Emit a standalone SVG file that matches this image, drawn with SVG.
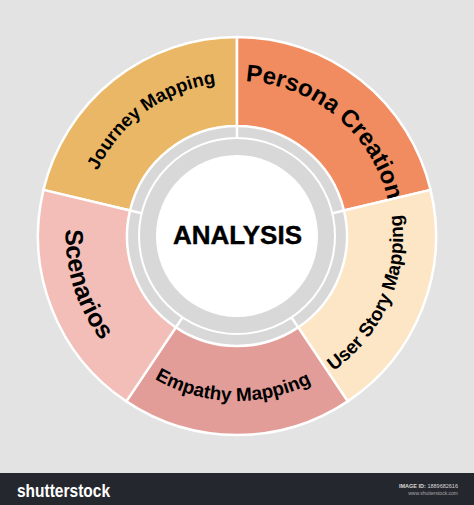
<svg xmlns="http://www.w3.org/2000/svg" xmlns:xlink="http://www.w3.org/1999/xlink" width="474" height="505" viewBox="0 0 474 505">
<style>
.seg{stroke:#ffffff;stroke-width:2.5;stroke-linejoin:round}
.lbl{font-family:"Liberation Sans",Arial,sans-serif;font-weight:bold;fill:#000000}
.div{stroke:#ffffff;stroke-width:2.5}
</style>
<defs>
<path id="pJourney" d="M 105.55 316.24 A 154 154 0 0 1 352.52 134.16"/>
<path id="pPersona" d="M 127.21 126.59 A 155 155 0 0 1 364.12 324.68"/>
<path id="pUser" d="M 184.19 393.38 A 166 166 0 0 0 316.33 90.18"/>
<path id="pEmpathy" d="M 72.31 246.07 A 165 165 0 0 0 400.94 254.68"/>
<path id="pScenarios" d="M 170.62 77.44 A 172 172 0 0 0 274.81 403.79"/>
</defs>
<rect x="0" y="0" width="474" height="505" fill="#E3E3E3"/>
<g id="hub-ring">
<circle cx="237" cy="236" r="110" fill="#D8D8D9"/>
<circle cx="237" cy="236" r="98" fill="none" stroke="#ffffff" stroke-width="2"/>
</g>
<g id="journey-mapping">
<path class="seg" fill="#E9B766" d="M 43.42 189.88 A 199 199 0 0 1 237 37 L 237 126 A 110 110 0 0 0 129.99 210.51 Z"/>
<text class="lbl" font-size="18.5"><textPath xlink:href="#pJourney" href="#pJourney" startOffset="50%" text-anchor="middle">Journey Mapping</textPath></text>
</g>
<g id="persona-creation">
<path class="seg" fill="#F08C5F" d="M 237 37 A 199 199 0 0 1 430.58 189.88 L 344.01 210.51 A 110 110 0 0 0 237 126 Z"/>
<text class="lbl" font-size="24"><textPath xlink:href="#pPersona" href="#pPersona" startOffset="50%" text-anchor="middle">Persona Creation</textPath></text>
</g>
<g id="user-story-mapping">
<path class="seg" fill="#FDE6C5" d="M 430.58 189.88 A 199 199 0 0 1 347.70 401.37 L 298.19 327.41 A 110 110 0 0 0 344.01 210.51 Z"/>
<text class="lbl" font-size="19"><textPath xlink:href="#pUser" href="#pUser" startOffset="50%" text-anchor="middle">User Story Mapping</textPath></text>
</g>
<g id="empathy-mapping">
<path class="seg" fill="#E39D99" d="M 347.70 401.37 A 199 199 0 0 1 126.30 401.37 L 175.81 327.41 A 110 110 0 0 0 298.19 327.41 Z"/>
<text class="lbl" font-size="19"><textPath xlink:href="#pEmpathy" href="#pEmpathy" startOffset="50%" text-anchor="middle">Empathy Mapping</textPath></text>
</g>
<g id="scenarios">
<path class="seg" fill="#F2BEB7" d="M 126.30 401.37 A 199 199 0 0 1 43.42 189.88 L 129.99 210.51 A 110 110 0 0 0 175.81 327.41 Z"/>
<text class="lbl" font-size="25"><textPath xlink:href="#pScenarios" href="#pScenarios" startOffset="50%" text-anchor="middle">Scenarios</textPath></text>
</g>
<g id="dividers">
<line class="div" x1="237" y1="138" x2="237" y2="127"/>
<line class="div" x1="332.33" y1="213.29" x2="344.01" y2="210.51"/>
<line class="div" x1="291.52" y1="317.44" x2="298.19" y2="327.41"/>
<line class="div" x1="182.48" y1="317.44" x2="175.81" y2="327.41"/>
<line class="div" x1="141.67" y1="213.29" x2="129.99" y2="210.51"/>
</g>
<g id="analysis">
<circle cx="237" cy="236" r="81" fill="#ffffff"/>
<text class="lbl" x="237.5" y="244" font-size="26" text-anchor="middle" stroke="#000" stroke-width="0.4">ANALYSIS</text>
</g>
<g id="footer">
<rect x="0" y="473" width="474" height="32" fill="#25272E"/>
<text x="17" y="497" font-family="'Liberation Sans',Arial,sans-serif" font-size="19" font-weight="bold" fill="#ffffff" textLength="93" lengthAdjust="spacingAndGlyphs">shutterstock</text>
<text x="458" y="488" font-family="'Liberation Sans',Arial,sans-serif" font-size="5.5" fill="#d8d8d8" text-anchor="end"><tspan font-weight="bold">IMAGE ID:</tspan> 1889682616</text>
<text x="458" y="495" font-family="'Liberation Sans',Arial,sans-serif" font-size="5" fill="#a8a8a8" text-anchor="end">www.shutterstock.com</text>
</g>
</svg>
